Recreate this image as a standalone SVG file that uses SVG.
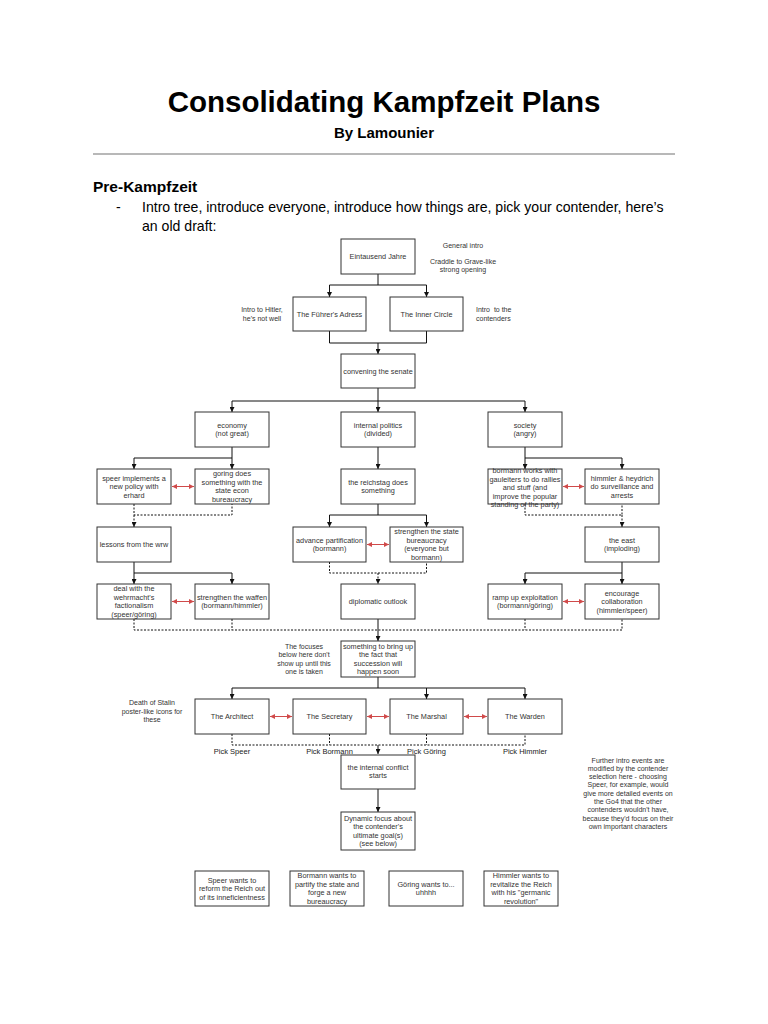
<svg xmlns="http://www.w3.org/2000/svg" width="768" height="1024" viewBox="0 0 768 1024">
<style>
.bg{fill:#fff}
.box{fill:#fff;stroke:#333;stroke-width:1}
.t{font-family:"Liberation Sans",Arial,sans-serif;font-size:7.3px;fill:#333;text-anchor:middle}
.n{font-family:"Liberation Sans",Arial,sans-serif;font-size:7px;fill:#333;text-anchor:middle}
.ns{font-family:"Liberation Sans",Arial,sans-serif;font-size:7px;fill:#333;text-anchor:start}
.pk{font-family:"Liberation Sans",Arial,sans-serif;font-size:7.5px;fill:#222;text-anchor:middle}
.c{fill:none;stroke:#111;stroke-width:1}
.d{fill:none;stroke:#111;stroke-width:1;stroke-dasharray:2,1.5}
.a{marker-end:url(#arr)}
.r{fill:none;stroke:#d04a4a;stroke-width:1;marker-start:url(#arrR);marker-end:url(#arrR)}
.h{font-family:"Liberation Sans",Arial,sans-serif;fill:#000}
</style>
<defs>
<marker id="arr" viewBox="0 0 10 10" refX="10" refY="5" markerWidth="5" markerHeight="5" markerUnits="userSpaceOnUse" orient="auto"><path d="M0,0 L10,5 L0,10 z" fill="#111"/></marker>
<marker id="arrR" viewBox="0 0 10 10" refX="10" refY="5" markerWidth="5" markerHeight="5" markerUnits="userSpaceOnUse" orient="auto-start-reverse"><path d="M0,0 L10,5 L0,10 z" fill="#d04a4a"/></marker>
</defs>
<rect class="bg" x="0" y="0" width="768" height="1024"/>

<g id="header">
<text class="h" x="384" y="112" text-anchor="middle" font-size="29.5" font-weight="bold">Consolidating Kampfzeit Plans</text>
<text class="h" x="384" y="138" text-anchor="middle" font-size="15" font-weight="bold">By Lamounier</text>
<line x1="93" y1="154" x2="675" y2="154" stroke="#a0a0a0" stroke-width="1.5"/>
<text class="h" x="93" y="192" font-size="15.5" font-weight="bold">Pre-Kampfzeit</text>
<text class="h" x="116" y="212" font-size="14.1">-</text>
<text class="h" x="142" y="212" font-size="14.1">Intro tree, introduce everyone, introduce how things are, pick your contender, here’s</text>
<text class="h" x="142" y="231" font-size="14.1">an old draft:</text>
</g>

<g id="connectors">
<path class="c" d="M378,274 V285 M329.5,285 H426.5"/>
<path class="c a" d="M329.5,285 V297"/>
<path class="c a" d="M426.5,285 V297"/>
<path class="c" d="M329.5,331 V343 H426.5 V331"/>
<path class="c a" d="M378,343 V354"/>
<path class="c" d="M378,388 V401 M232,401 H525"/>
<path class="c a" d="M232,401 V412"/>
<path class="c a" d="M378,401 V412"/>
<path class="c a" d="M525,401 V412"/>
<path class="c" d="M232,447 V458 H134"/>
<path class="c a" d="M134,458 V469"/>
<path class="c a" d="M232,458 V469"/>
<path class="c a" d="M378,447 V469"/>
<path class="c" d="M525,447 V458 H622"/>
<path class="c a" d="M525,458 V469"/>
<path class="c a" d="M622,458 V469"/>
<path class="d" d="M134,504 V515 H232 V504"/>
<path class="d a" d="M134,515 V527"/>
<path class="c" d="M378,504 V515 M329.5,515 H426.5"/>
<path class="c a" d="M329.5,515 V527"/>
<path class="c a" d="M426.5,515 V527"/>
<path class="d" d="M525,504 V515 H622 V504"/>
<path class="d a" d="M622,515 V527"/>
<path class="c" d="M134,562 V573 H232"/>
<path class="c a" d="M134,573 V584"/>
<path class="c a" d="M232,573 V584"/>
<path class="d" d="M329.5,562 V573 H426.5 V562"/>
<path class="d a" d="M378,573 V584"/>
<path class="c" d="M622,562 V573 H525"/>
<path class="c a" d="M525,573 V584"/>
<path class="c a" d="M622,573 V584"/>
<path class="d" d="M134,619 V630 H622 V619 M232,619 V630 M525,619 V630"/>
<path class="c" d="M378,619 V630"/>
<path class="c a" d="M378,630 V641"/>
<path class="c" d="M378,677 V688 M232,688 H525"/>
<path class="c a" d="M232,688 V699"/>
<path class="c a" d="M426.5,688 V699"/>
<path class="c a" d="M525,688 V699"/>
<path class="d" d="M232,734 V745 H525 V734 M329.5,734 V745 M426.5,734 V745"/>
<path class="c a" d="M378,745 V754"/>
<path class="c a" d="M378,789 V812"/>
<path class="r" d="M172,486.5 H194"/>
<path class="r" d="M563,486.5 H584"/>
<path class="r" d="M367,544.5 H389"/>
<path class="r" d="M172,601.5 H194"/>
<path class="r" d="M563,601.5 H584"/>
<path class="r" d="M270,716.5 H292"/>
<path class="r" d="M367,716.5 H389"/>
<path class="r" d="M464,716.5 H487"/>
</g>

<g id="eintausend"><rect class="box" x="341" y="239" width="74" height="35"/><text class="t" x="378" y="259">Eintausend Jahre</text></g>
<g id="note-general"><text class="n" x="463" y="247.6">General intro</text><text class="n" x="463" y="263.6">Craddle to Grave-like</text><text class="n" x="463" y="272.1">strong opening</text></g>
<g id="fuehrer"><rect class="box" x="293" y="297" width="73" height="34"/><text class="t" x="329.5" y="316.6">The Führer's Adress</text></g>
<g id="inner-circle"><rect class="box" x="390" y="297" width="73" height="34"/><text class="t" x="426.5" y="316.6">The Inner Circle</text></g>
<g id="note-hitler"><text class="n" x="262" y="312.4">Intro to Hitler,</text><text class="n" x="262" y="320.9">he's not well</text></g>
<g id="note-contenders"><text class="ns" x="476" y="312.4" xml:space="preserve">Intro  to the</text><text class="ns" x="476" y="320.9">contenders</text></g>
<g id="convening"><rect class="box" x="341" y="354" width="74" height="34"/><text class="t" x="378" y="373.6">convening the senate</text></g>

<g id="economy"><rect class="box" x="195" y="412" width="74" height="35"/><text class="t" x="232" y="427.9">economy</text><text class="t" x="232" y="436.4">(not great)</text></g>
<g id="internal-politics"><rect class="box" x="341" y="412" width="74" height="35"/><text class="t" x="378" y="427.9">internal politics</text><text class="t" x="378" y="436.4">(divided)</text></g>
<g id="society"><rect class="box" x="488" y="412" width="74" height="35"/><text class="t" x="525" y="427.9">society</text><text class="t" x="525" y="436.4">(angry)</text></g>

<g id="speer-policy"><rect class="box" x="97" y="469" width="74" height="35"/><text class="t" x="134" y="480.6">speer implements a</text><text class="t" x="134" y="489.1">new policy with</text><text class="t" x="134" y="497.6">erhard</text></g>
<g id="goring-econ"><rect class="box" x="195" y="469" width="74" height="35"/><text class="t" x="232" y="476.4">goring does</text><text class="t" x="232" y="484.9">something with the</text><text class="t" x="232" y="493.4">state econ</text><text class="t" x="232" y="501.9">bureaucracy</text></g>
<g id="reichstag"><rect class="box" x="341" y="469" width="74" height="35"/><text class="t" x="378" y="484.9">the reichstag does</text><text class="t" x="378" y="493.4">something</text></g>
<g id="bormann-rallies"><rect class="box" x="488" y="469" width="74" height="35"/><text class="t" x="525" y="473.1">bormann works with</text><text class="t" x="525" y="481.6">gauleiters to do rallies</text><text class="t" x="525" y="490.1">and stuff (and</text><text class="t" x="525" y="498.6">improve the popular</text><text class="t" x="525" y="507.1">standing of the party)</text></g>
<g id="himmler-surveillance"><rect class="box" x="585" y="469" width="74" height="35"/><text class="t" x="622" y="480.6">himmler &amp; heydrich</text><text class="t" x="622" y="489.1">do surveillance and</text><text class="t" x="622" y="497.6">arrests</text></g>

<g id="lessons"><rect class="box" x="97" y="527" width="74" height="35"/><text class="t" x="134" y="547.1">lessons from the wrw</text></g>
<g id="advance-partification"><rect class="box" x="293" y="527" width="73" height="35"/><text class="t" x="329.5" y="542.9">advance partification</text><text class="t" x="329.5" y="551.4">(bormann)</text></g>
<g id="strengthen-state"><rect class="box" x="390" y="527" width="73" height="35"/><text class="t" x="426.5" y="534.4">strengthen the state</text><text class="t" x="426.5" y="542.9">bureaucracy</text><text class="t" x="426.5" y="551.4">(everyone but</text><text class="t" x="426.5" y="559.9">bormann)</text></g>
<g id="the-east"><rect class="box" x="585" y="527" width="74" height="35"/><text class="t" x="622" y="542.9">the east</text><text class="t" x="622" y="551.4">(imploding)</text></g>

<g id="deal-wehrmacht"><rect class="box" x="97" y="584" width="74" height="35"/><text class="t" x="134" y="591.4">deal with the</text><text class="t" x="134" y="599.9">wehrmacht's</text><text class="t" x="134" y="608.4">factionalism</text><text class="t" x="134" y="616.9">(speer/göring)</text></g>
<g id="strengthen-waffen"><rect class="box" x="195" y="584" width="74" height="35"/><text class="t" x="232" y="599.9">strengthen the waffen</text><text class="t" x="232" y="608.4">(bormann/himmler)</text></g>
<g id="diplomatic"><rect class="box" x="341" y="584" width="74" height="35"/><text class="t" x="378" y="604.1">diplomatic outlook</text></g>
<g id="ramp-up"><rect class="box" x="488" y="584" width="74" height="35"/><text class="t" x="525" y="599.9">ramp up exploitation</text><text class="t" x="525" y="608.4">(bormann/göring)</text></g>
<g id="encourage"><rect class="box" x="585" y="584" width="74" height="35"/><text class="t" x="622" y="595.6">encourage</text><text class="t" x="622" y="604.1">collaboration</text><text class="t" x="622" y="612.6">(himmler/speer)</text></g>

<g id="succession"><rect class="box" x="341" y="641" width="74" height="36"/><text class="t" x="378" y="648.9">something to bring up</text><text class="t" x="378" y="657.4">the fact that</text><text class="t" x="378" y="665.9">succession will</text><text class="t" x="378" y="674.4">happen soon</text></g>
<g id="note-focuses"><text class="n" x="304" y="648.9">The focuses</text><text class="n" x="304" y="657.4">below here don't</text><text class="n" x="304" y="665.9">show up until this</text><text class="n" x="304" y="674.4">one is taken</text></g>

<g id="note-stalin"><text class="n" x="152" y="705.3">Death of Stalin</text><text class="n" x="152" y="713.6">poster-like icons for</text><text class="n" x="152" y="722">these</text></g>
<g id="architect"><rect class="box" x="195" y="699" width="74" height="35"/><text class="t" x="232" y="719.1">The Architect</text></g>
<g id="secretary"><rect class="box" x="293" y="699" width="73" height="35"/><text class="t" x="329.5" y="719.1">The Secretary</text></g>
<g id="marshal"><rect class="box" x="390" y="699" width="73" height="35"/><text class="t" x="426.5" y="719.1">The Marshal</text></g>
<g id="warden"><rect class="box" x="488" y="699" width="74" height="35"/><text class="t" x="525" y="719.1">The Warden</text></g>
<g id="pick-labels"><text class="pk" x="232" y="754">Pick Speer</text><text class="pk" x="329.5" y="754">Pick Bormann</text><text class="pk" x="426.5" y="754">Pick Göring</text><text class="pk" x="525" y="754">Pick Himmler</text></g>

<g id="internal-conflict"><rect class="box" x="341" y="755" width="74" height="34"/><text class="t" x="378" y="769.9">the internal conflict</text><text class="t" x="378" y="778.4">starts</text></g>
<g id="dynamic-focus"><rect class="box" x="341" y="812" width="74" height="38"/><text class="t" x="378" y="820.9">Dynamic focus about</text><text class="t" x="378" y="829.4">the contender's</text><text class="t" x="378" y="837.9">ultimate goal(s)</text><text class="t" x="378" y="846.4">(see below)</text></g>
<g id="note-further"><text class="n" x="628" y="762.5">Further intro events are</text><text class="n" x="628" y="770.8">modified by the contender</text><text class="n" x="628" y="779.1">selection here - choosing</text><text class="n" x="628" y="787.4">Speer, for example, would</text><text class="n" x="628" y="795.7">give more detailed events on</text><text class="n" x="628" y="804">the Go4 that the other</text><text class="n" x="628" y="812.3">contenders wouldn't have,</text><text class="n" x="628" y="820.6">because they'd focus on their</text><text class="n" x="628" y="828.9">own important characters</text></g>

<g id="goal-speer"><rect class="box" x="195" y="871" width="74" height="35"/><text class="t" x="232" y="882.6">Speer wants to</text><text class="t" x="232" y="891.1">reform the Reich out</text><text class="t" x="232" y="899.6">of its inneficientness</text></g>
<g id="goal-bormann"><rect class="box" x="290" y="871" width="74" height="35"/><text class="t" x="327" y="878.4">Bormann wants to</text><text class="t" x="327" y="886.9">partify the state and</text><text class="t" x="327" y="895.4">forge a new</text><text class="t" x="327" y="903.9">bureaucracy</text></g>
<g id="goal-goring"><rect class="box" x="389" y="871" width="74" height="35"/><text class="t" x="426" y="886.9">Göring wants to...</text><text class="t" x="426" y="895.4">uhhhh</text></g>
<g id="goal-himmler"><rect class="box" x="484" y="871" width="74" height="35"/><text class="t" x="521" y="878.4">Himmler wants to</text><text class="t" x="521" y="886.9">revitalize the Reich</text><text class="t" x="521" y="895.4">with his "germanic</text><text class="t" x="521" y="903.9">revolution"</text></g>
</svg>
